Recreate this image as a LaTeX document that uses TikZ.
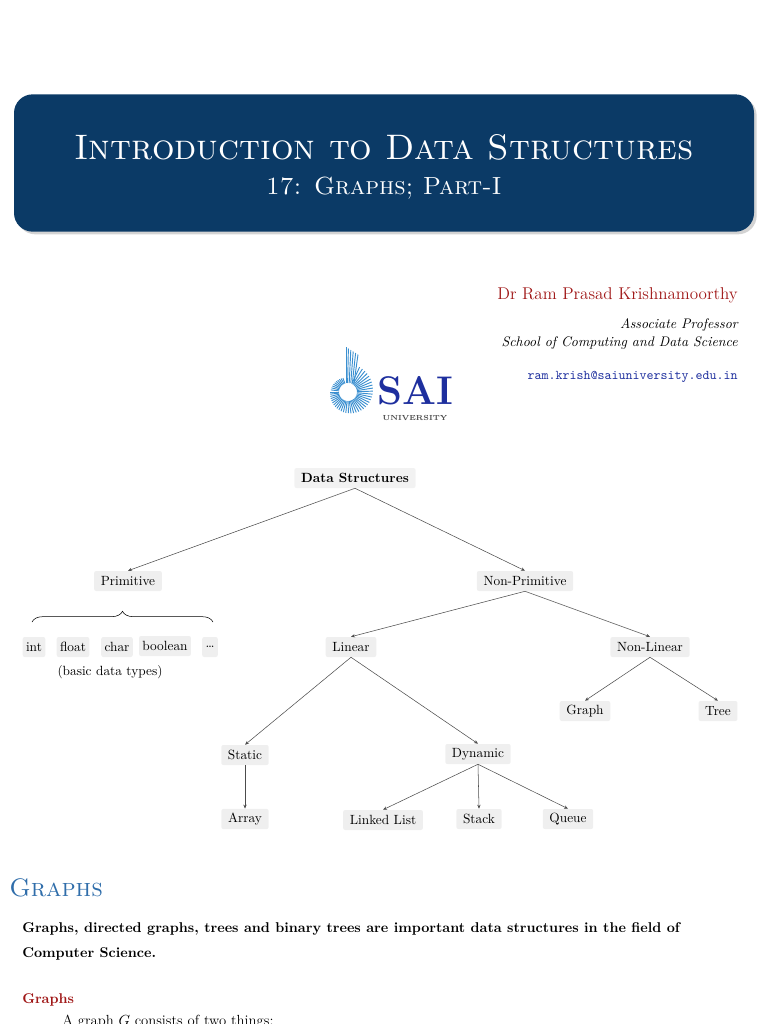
\documentclass[tikz,border=0pt]{standalone}
\usetikzlibrary{decorations.pathreplacing,shadows,arrows.meta}
\definecolor{hdr}{HTML}{0B3A66}
\definecolor{ttl}{HTML}{2F6DAA}
\definecolor{rd}{HTML}{A01818}
\definecolor{boxg}{HTML}{EFEFEF}
\definecolor{logob}{HTML}{1E2F9E}
\definecolor{ray}{HTML}{3A8FD0}
\begin{document}
\begin{tikzpicture}[x=0.75pt,y=-0.75pt,
  dsbox/.style={fill=boxg,rounded corners=1.5pt,inner xsep=5pt,inner ysep=3pt,font=\fontsize{10}{12}\selectfont,minimum height=15pt},
  smbox/.style={dsbox,inner xsep=2.5pt},
  conn/.style={draw=black!70,line width=0.4pt,-{Stealth[length=3pt,width=2.5pt]}},
  txt/.style={inner sep=0pt,anchor=west}]
\useasboundingbox (0,0) rectangle (768,1024);
\clip (0,0) rectangle (768,1024);
% header
\node[fill=hdr,rounded corners=14pt,minimum width=555pt,minimum height=103pt,drop shadow={opacity=0.35,shadow xshift=2pt,shadow yshift=-2pt}] (hdr) at (384,163) {};
\node[text=white,font=\fontsize{26.6}{30}\selectfont\scshape] (t1) at (384,147) {Introduction to Data Structures};
\node[text=white,font=\fontsize{18.6}{22}\selectfont\scshape] (t2) at (384,188) {17: Graphs; Part-I};
% author
\node[anchor=east,inner sep=0pt,text=rd,font=\fontsize{12.8}{15}\selectfont] (au) at (738,295) {Dr Ram Prasad Krishnamoorthy};
\node[anchor=east,inner sep=0pt,font=\fontsize{10.4}{12}\selectfont\itshape] (a1) at (738,325) {Associate Professor};
\node[anchor=east,inner sep=0pt,font=\fontsize{10.4}{12}\selectfont\itshape] (a2) at (738,343) {School of Computing and Data Science};
\node[anchor=east,inner sep=0pt,text=logob,font=\fontsize{10}{12}\selectfont\ttfamily] (em) at (738,377) {ram.krish@saiuniversity.edu.in};
% logo
\foreach \a in {20,27,...,340}{
  \draw[ray,line width=0.7pt] ({348+9*cos(90+\a)},{392-9*sin(90+\a)}) -- ({348+(14+\a/25)*cos(90+\a)},{392-(14+\a/25)*sin(90+\a)});
}
\foreach \k in {0,...,5}{\draw[ray,line width=0.7pt] (346+\k*1.6,383) -- (346+\k*2.4,{347+\k*1.5});}
\node[text=logob,font=\fontsize{30}{30}\selectfont\bfseries\rmfamily,inner sep=0pt] (sai) at (415,391) {SAI};
\node[text=black!70,font=\fontsize{5.5}{6}\selectfont\bfseries,inner sep=0pt] (uni) at (415,418) {UNIVERSITY};
% tree
\node[dsbox,fill=black!5,font=\fontsize{10}{12}\selectfont\bfseries] (ds) at (355,478) {Data Structures};
\node[dsbox] (prim) at (128,581) {Primitive};
\node[dsbox] (np) at (525,581) {Non-Primitive};
\node[smbox] (int) at (34,647) {int};
\node[smbox] (flt) at (73,647) {float};
\node[smbox] (chr) at (117,647) {char};
\node[smbox] (bool) at (165,646) {boolean};
\node[smbox] (dots) at (210,647) {\dots};
\node[font=\fontsize{10}{12}\selectfont] (bdt) at (110,672) {(basic data types)};
\draw[decorate,decoration={brace,amplitude=8pt},line width=0.4pt] (32,622) -- (213,622);
\node[dsbox] (lin) at (351,647) {Linear};
\node[dsbox] (nl) at (650,647) {Non-Linear};
\node[dsbox] (gr) at (585,711) {Graph};
\node[dsbox] (tr) at (718,711) {Tree};
\node[dsbox] (st) at (245,755) {Static};
\node[dsbox] (dy) at (478,754) {Dynamic};
\node[dsbox] (arr) at (245,819) {Array};
\node[dsbox] (ll) at (383,820) {Linked List};
\node[dsbox] (stk) at (479,819) {Stack};
\node[dsbox] (q) at (568,819) {Queue};
\draw[conn] (ds.south) -- (prim.north);
\draw[conn] (ds.south) -- (np.north);
\draw[conn] (np.south) -- (lin.north);
\draw[conn] (np.south) -- (nl.north);
\draw[conn] (nl.south) -- (gr.north);
\draw[conn] (nl.south) -- (tr.north);
\draw[conn] (lin.south) -- (st.north);
\draw[conn] (lin.south) -- (dy.north);
\draw[conn] (st.south) -- (arr.north);
\draw[conn] (dy.south) -- (ll.north);
\draw[conn] (dy.south) -- (stk.north);
\draw[conn] (dy.south) -- (q.north);
% bottom text
\node[txt,text=ttl,font=\fontsize{19}{22}\selectfont\scshape] (gh) at (9,888) {Graphs};
\node[txt,font=\fontsize{10.6}{14}\selectfont\bfseries] (p1) at (22,929) {Graphs, directed graphs, trees and binary trees are important data structures in the field of};
\node[txt,font=\fontsize{10.6}{14}\selectfont\bfseries] (p2) at (22,954) {Computer Science.};
\node[txt,text=rd,font=\fontsize{10.6}{14}\selectfont\bfseries] (g2) at (22,1000) {Graphs};
\node[txt,font=\fontsize{11}{14}\selectfont] (p3) at (62,1022) {A graph $G$ consists of two things:};
\end{tikzpicture}
\end{document}
